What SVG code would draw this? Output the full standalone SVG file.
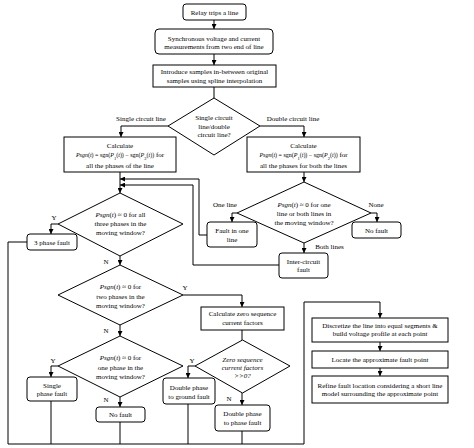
<svg xmlns="http://www.w3.org/2000/svg" width="474" height="448" viewBox="0 0 474 448">
<style>
.b{fill:#fff;stroke:#000;stroke-width:1}
.c{fill:none;stroke:#000;stroke-width:1}
text{font-family:"Liberation Serif","Times New Roman",serif;font-size:7px;fill:#000;text-anchor:middle}
.i{font-style:italic}
.f{font-size:6px}
.s{font-size:4.5px}
</style>
<defs>
<marker id="a" viewBox="0 0 8 8" refX="8" refY="4" markerWidth="5" markerHeight="5" orient="auto" markerUnits="userSpaceOnUse">
<path d="M0,0 L8,4 L0,8 z" fill="#000"/>
</marker>
</defs>
<rect width="474" height="448" fill="#fff"/>
<g id="connectors">
<path class="c" d="M214,20 V29" marker-end="url(#a)"/>
<path class="c" d="M214,54 V65" marker-end="url(#a)"/>
<path class="c" d="M214,87 V98"/>
<path class="c" d="M168,126 H121 V137" marker-end="url(#a)"/>
<path class="c" d="M260,126 H304 V137" marker-end="url(#a)"/>
<path class="c" d="M120,172 V193" marker-end="url(#a)"/>
<path class="c" d="M207,235 H199 V179 H120" marker-end="url(#a)"/>
<path class="c" d="M279,265 H193 V185 H120" marker-end="url(#a)"/>
<path class="c" d="M304,172 V182" marker-end="url(#a)"/>
<path class="c" d="M237,213 H232 V222" marker-end="url(#a)"/>
<path class="c" d="M371,213 H377 V222" marker-end="url(#a)"/>
<path class="c" d="M304,243 V253" marker-end="url(#a)"/>
<path class="c" d="M120,256 V265" marker-end="url(#a)"/>
<path class="c" d="M58,224 H51 V234" marker-end="url(#a)"/>
<path class="c" d="M27,242 H8 V444 H304 V302 H380 V318" marker-end="url(#a)"/>
<path class="c" d="M183,295 H242 V307" marker-end="url(#a)"/>
<path class="c" d="M120,325 V336" marker-end="url(#a)"/>
<path class="c" d="M242,330 V340"/>
<path class="c" d="M58,366 H51 V377" marker-end="url(#a)"/>
<path class="c" d="M51,401 V444"/>
<path class="c" d="M120,397 V407" marker-end="url(#a)"/>
<path class="c" d="M120,422 V444"/>
<path class="c" d="M195,366 H188 V378" marker-end="url(#a)"/>
<path class="c" d="M188,404 V444"/>
<path class="c" d="M242,393 V405" marker-end="url(#a)"/>
<path class="c" d="M242,431 V444"/>
<path class="c" d="M380,342 V351" marker-end="url(#a)"/>
<path class="c" d="M380,368 V376" marker-end="url(#a)"/>
<text x="141" y="120.5">Single circuit line</text>
<text x="293" y="121">Double circuit line</text>
<text x="225" y="206.5">One line</text>
<text x="376" y="206.5">None</text>
<text x="329.5" y="249">Both lines</text>
<text x="54" y="219.5">Y</text>
<text x="106" y="263.5">N</text>
<text x="185" y="289.5">Y</text>
<text x="106" y="332.5">N</text>
<text x="53" y="362.5">Y</text>
<text x="106" y="401.5">N</text>
<text x="192" y="362.5">Y</text>
<text x="229" y="400.5">N</text>
</g>
<g id="n1"><rect class="b" x="183" y="4" width="63" height="16" rx="3"/><text x="214.5" y="14.5">Relay trips a line</text></g>
<g id="n2"><rect class="b" x="155" y="29" width="118" height="25" rx="4"/><text x="214" y="40.8">Synchronous voltage and current</text><text x="214" y="49.2">measurements from two end of line</text></g>
<g id="n3"><rect class="b" x="153" y="65" width="123" height="22"/><text x="214.5" y="73.5">Introduce samples in-between original</text><text x="214.5" y="82.5">samples using spline interpolation</text></g>
<g id="n4"><polygon class="b" points="214,98 260,126 214,155 168,126"/><text x="214" y="120">Single circuit</text><text x="214" y="128.5">line/double</text><text x="214" y="137">circuit line?</text></g>
<g id="n5"><rect class="b" x="64" y="137" width="112" height="35"/><text x="120" y="147.5">Calculate</text>
<text x="120" y="156.5"><tspan class="f"><tspan class="i">Psgn</tspan>(<tspan class="i">t</tspan>) = sgn(<tspan class="i">P</tspan><tspan class="s" baseline-shift="sub">1</tspan>(<tspan class="i">t</tspan>)) − sgn(<tspan class="i">P</tspan><tspan class="s" baseline-shift="sub">2</tspan>(<tspan class="i">t</tspan>))</tspan> for</text>
<text x="120" y="167.5">all the phases of the line</text></g>
<g id="n6"><rect class="b" x="247" y="137" width="113" height="35"/><text x="303.5" y="147.5">Calculate</text>
<text x="303.5" y="156.5"><tspan class="f"><tspan class="i">Psgn</tspan>(<tspan class="i">t</tspan>) = sgn(<tspan class="i">P</tspan><tspan class="s" baseline-shift="sub">1</tspan>(<tspan class="i">t</tspan>)) − sgn(<tspan class="i">P</tspan><tspan class="s" baseline-shift="sub">2</tspan>(<tspan class="i">t</tspan>))</tspan> for</text>
<text x="303.5" y="167.5">all the phases for both the lines</text></g>
<g id="n7"><polygon class="b" points="120,193 183,224 120,256 58,224"/><text x="120.5" y="216.5"><tspan class="i">Psgn</tspan>(<tspan class="i">t</tspan>) ≈ 0 for all</text><text x="120.5" y="226">three phases in the</text><text x="120.5" y="235">moving window?</text></g>
<g id="n8"><rect class="b" x="27" y="234" width="50" height="16" rx="3"/><text x="52" y="244.5">3 phase fault</text></g>
<g id="n9"><polygon class="b" points="120,265 183,295 120,325 58,295"/><text x="120.5" y="289"><tspan class="i">Psgn</tspan>(<tspan class="i">t</tspan>) ≈ 0 for</text><text x="120.5" y="298.5">two phases in the</text><text x="120.5" y="307.5">moving window?</text></g>
<g id="n10"><polygon class="b" points="120,336 183,366 120,397 58,366"/><text x="120.5" y="360"><tspan class="i">Psgn</tspan>(<tspan class="i">t</tspan>) ≈ 0 for</text><text x="120.5" y="369.5">one phase in the</text><text x="120.5" y="378.5">moving window?</text></g>
<g id="n11"><rect class="b" x="27" y="377" width="50" height="24" rx="3"/><text x="52" y="387.5">Single</text><text x="52" y="396">phase fault</text></g>
<g id="n12"><rect class="b" x="96" y="407" width="49" height="15" rx="3"/><text x="120.5" y="417">No fault</text></g>
<g id="n13"><rect class="b" x="201" y="307" width="83" height="23"/><text x="242.5" y="316">Calculate zero sequence</text><text x="242.5" y="324.5">current factors</text></g>
<g id="n14"><polygon class="b" points="242.5,340 290,366 242.5,393 195,366"/><text class="i" x="242.5" y="362">Zero sequence</text><text class="i" x="242.5" y="370">current factors</text><text class="i" x="242.5" y="377.5">&gt;&gt;0?</text></g>
<g id="n15"><rect class="b" x="163" y="378" width="52" height="26" rx="3"/><text x="189" y="390">Double phase</text><text x="189" y="398.5">to ground fault</text></g>
<g id="n16"><rect class="b" x="215" y="405" width="55" height="26" rx="3"/><text x="242.5" y="416">Double phase</text><text x="242.5" y="424.5">to phase fault</text></g>
<g id="n17"><polygon class="b" points="304,182 371,213 304,243 237,213"/><text x="304" y="206.5"><tspan class="i">Psgn</tspan>(<tspan class="i">t</tspan>) ≈ 0 for one</text><text x="304" y="216">line or both lines in</text><text x="304" y="224.5">the moving window?</text></g>
<g id="n18"><rect class="b" x="207" y="222" width="50" height="25" rx="3"/><text x="232" y="233">Fault in one</text><text x="232" y="242">line</text></g>
<g id="n19"><rect class="b" x="352" y="222" width="49" height="16" rx="3"/><text x="376.5" y="232.5">No fault</text></g>
<g id="n20"><rect class="b" x="279" y="253" width="49" height="25" rx="3"/><text x="303.5" y="263.5">Inter-circuit</text><text x="303.5" y="272">fault</text></g>
<g id="n21"><rect class="b" x="312" y="318" width="136" height="24"/><text x="380" y="327.5">Discretize the line into equal segments &amp;</text><text x="380" y="336">build voltage profile at each point</text></g>
<g id="n22"><rect class="b" x="312" y="351" width="136" height="17"/><text x="380" y="362">Locate the approximate fault point</text></g>
<g id="n23"><rect class="b" x="312" y="376" width="136" height="27"/><text x="380" y="387.5">Refine fault location considering a short line</text><text x="380" y="396">model surrounding the approximate point</text></g>
</svg>
